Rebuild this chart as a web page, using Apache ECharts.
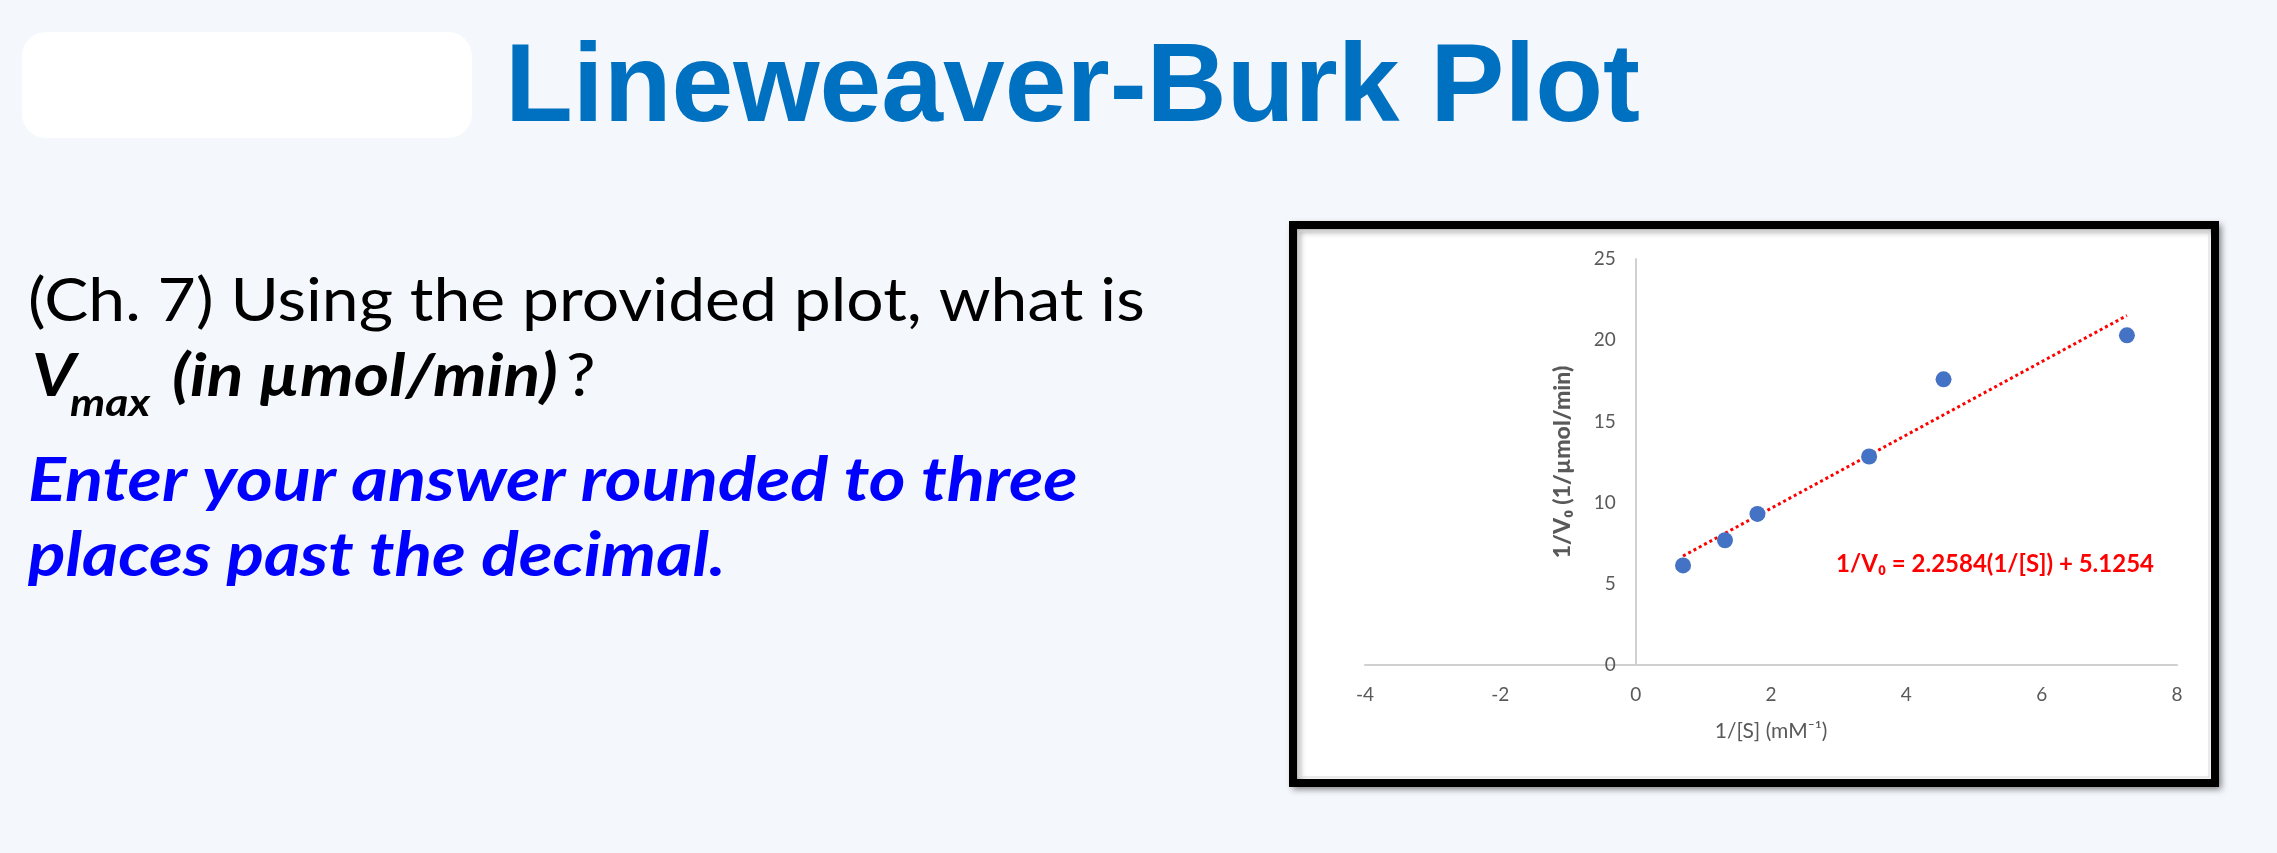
<!DOCTYPE html>
<html>
<head>
<meta charset="utf-8">
<script src="https://cdn.jsdelivr.net/npm/echarts@6/dist/echarts.min.js"></script>
<style>
  html, body { margin: 0; padding: 0; background: #f4f7fc; }
  #main { width: 2277px; height: 853px; }
</style>
</head>
<body>
<div id="main"></div>
<script>
// data
let invS = [0.7, 1.32, 1.8, 3.45, 4.55, 7.26]       // 1/[S] (mM^-1)
let invV = [6.13, 7.68, 9.3, 12.84, 17.59, 20.3]    // 1/V0
// ends of the dotted trendline
let trendX = [0.7, 7.26]
let trendY = [6.71, 21.52]
// axis ranges: [min, max, step]
let xTicks = [-4, 8, 2]
let yTicks = [0, 25, 5]

let title = 'Lineweaver-Burk Plot'
let question = '(Ch. 7) Using the provided plot, what is'
let unitText = '(in µmol/min)'
let prompt1 = 'Enter your answer rounded to three'
let prompt2 = 'places past the decimal.'
let equation = '1/V₀ = 2.2584(1/[S]) + 5.1254'

const GREY = '#595959'
const BODY_FONT = 'Lato, "Open Sans", sans-serif'

let chart = echarts.init(document.getElementById('main'))

function txt(x, y, text, size, opts) {
  opts = opts || {}
  return {
    type: 'text',
    x: x,
    y: y,
    scaleX: opts.scaleX || 1,
    z: 10,
    style: {
      text: text,
      fill: opts.color || '#000',
      font: (opts.style || 'normal') + ' ' + (opts.weight || 'normal') + ' ' + size + 'px ' + (opts.family || BODY_FONT),
      align: 'left',
      verticalAlign: 'middle'
    }
  }
}

let points = invS.map((x, i) => [x, invV[i]])
let trend = trendX.map((x, i) => [x, trendY[i]])

// grid box in pixels; y axis sits at x = 0
let gridLeft = 1365, gridRight = 100
let plotWidth = 2277 - gridLeft - gridRight
let zeroShift = plotWidth * (0 - xTicks[0]) / (xTicks[1] - xTicks[0])

let option = {
  backgroundColor: '#f4f7fc',
  animation: false,
  grid: {
    left: gridLeft,
    right: gridRight,
    top: 259,
    bottom: 188
  },
  xAxis: {
    type: 'value',
    min: xTicks[0],
    max: xTicks[1],
    interval: xTicks[2],
    splitLine: { show: false },
    axisTick: { show: false },
    axisLine: { onZero: true, lineStyle: { color: '#d0d0d0', width: 2 } },
    axisLabel: { color: GREY, fontSize: 19, fontFamily: BODY_FONT, margin: 20 },
    name: '1/[S] (mM⁻¹)',
    nameLocation: 'middle',
    nameGap: 56,
    nameTextStyle: { color: GREY, fontSize: 21, fontFamily: BODY_FONT }
  },
  yAxis: {
    type: 'value',
    min: yTicks[0],
    max: yTicks[1],
    interval: yTicks[2],
    offset: -zeroShift,
    splitLine: { show: false },
    axisTick: { show: false },
    axisLine: { onZero: false, lineStyle: { color: '#d0d0d0', width: 2 } },
    axisLabel: { color: GREY, fontSize: 19, fontFamily: BODY_FONT, margin: 20 },
    name: '1/V₀ (1/µmol/min)',
    nameLocation: 'middle',
    nameGap: 62,
    nameRotate: 90,
    nameTextStyle: { color: GREY, fontSize: 23, fontWeight: 900, fontFamily: BODY_FONT }
  },
  series: [{
    name: 'trend',
    type: 'line',
    data: trend,
    symbol: 'none',
    silent: true,
    lineStyle: { color: '#ff0000', width: 3, type: [3, 3] },
    z: 3
  }, {
    name: 'data',
    type: 'scatter',
    data: points,
    symbolSize: 16,
    itemStyle: { color: '#4472c4', opacity: 1 },
    z: 4
  }],
  graphic: [
    // redacted blob left of the title
    {
      type: 'rect', z: 1,
      shape: { x: 22, y: 32, width: 450, height: 106, r: 24 },
      style: { fill: '#ffffff' }
    },
    txt(505, 90, title, 111, { weight: 'bold', color: '#0070c0', family: '"Liberation Sans", Arial, sans-serif' }),
    // chart frame
    {
      type: 'rect', z: -5,
      shape: { x: 1293, y: 225, width: 922, height: 558 },
      style: {
        fill: '#ffffff', stroke: '#000000', lineWidth: 8,
        shadowBlur: 6, shadowOffsetX: 3, shadowOffsetY: 3, shadowColor: 'rgba(0,0,0,0.35)'
      }
    },
    {
      type: 'rect', z: -4,
      shape: { x: 1299, y: 231, width: 910, height: 546 },
      style: { fill: 'none', stroke: '#d9d9d9', lineWidth: 1 }
    },
    txt(1836, 564, equation, 25, { weight: 'bold', color: '#ff0000', scaleX: 0.96 }),
    // question text
    txt(28, 302, question, 60, { scaleX: 1.1 }),
    txt(32, 377, 'V', 60, { style: 'italic', weight: 'bold', scaleX: 1.12 }),
    txt(70, 404, 'max', 38, { style: 'italic', weight: 'bold', scaleX: 1.17 }),
    txt(172, 377, unitText, 60, { style: 'italic', weight: 'bold', scaleX: 1.13 }),
    txt(566, 377, '?', 60, { scaleX: 1.1 }),
    txt(28, 481, prompt1, 61, { style: 'italic', weight: 'bold', color: '#0000ff', scaleX: 1.155 }),
    txt(28, 556, prompt2, 61, { style: 'italic', weight: 'bold', color: '#0000ff', scaleX: 1.14 })
  ]
}

chart.setOption(option)
</script>
</body>
</html>
